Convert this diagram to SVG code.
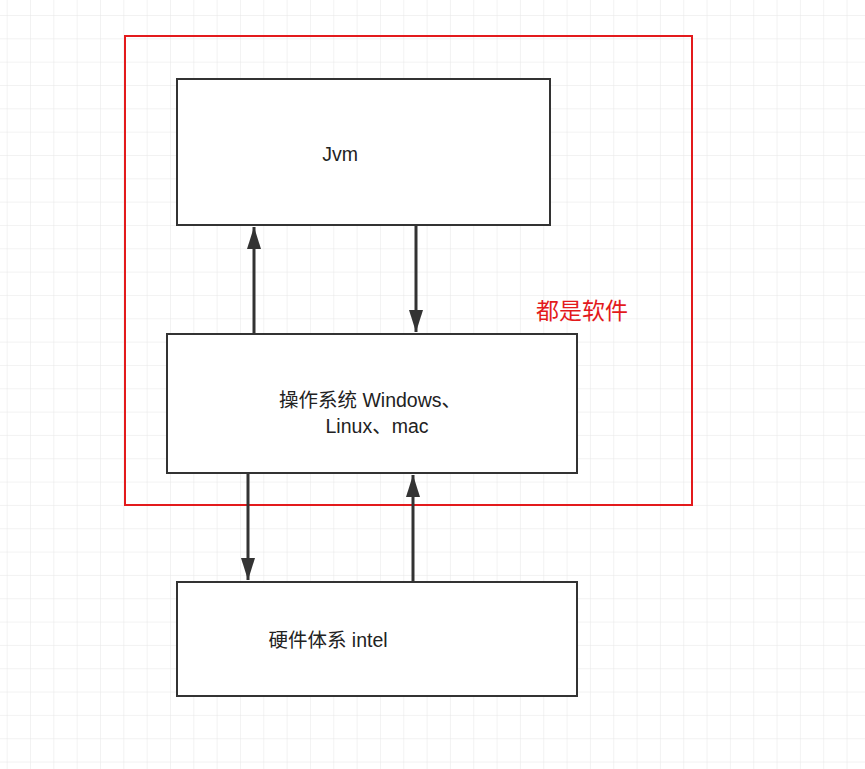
<svg xmlns="http://www.w3.org/2000/svg" width="865" height="769" viewBox="0 0 865 769">
<defs>
<pattern id="grid" x="6.67" y="15" width="23.33" height="23.33" patternUnits="userSpaceOnUse">
<path d="M0 0H23.33M0 0V23.33" fill="none" stroke="#e6e6e6" stroke-width="1"/>
</pattern>
<marker id="a" viewBox="0 0 22 14" refX="22" refY="7" markerWidth="22" markerHeight="14" markerUnits="userSpaceOnUse" orient="auto"><path d="M0 0L22 7L0 14Z" fill="#333"/></marker>
</defs>
<style>
.box{fill:#fff;stroke:#333;stroke-width:2}
.t{font-family:"Liberation Sans","Noto Sans CJK SC",sans-serif;font-size:19.5px;fill:#222;text-anchor:middle}
.c{stroke:#333;stroke-width:3;fill:none}
</style>
<rect width="865" height="769" fill="#fff"/>
<rect width="865" height="769" fill="url(#grid)"/>
<rect x="125" y="36" width="567" height="469" fill="none" stroke="#e31a1c" stroke-width="2"/>
<text x="582" y="319" style="font-family:'Noto Sans CJK SC',sans-serif;font-size:23px;fill:#e31a1c;text-anchor:middle">都是软件</text>
<g id="jvm"><rect class="box" x="177" y="79" width="373" height="146"/><text class="t" x="340" y="161">Jvm</text></g>
<g id="os"><rect class="box" x="167" y="334" width="410" height="139"/><text class="t" x="370" y="407">操作系统 Windows、</text><text class="t" x="377" y="433">Linux、mac</text></g>
<g id="hw"><rect class="box" x="177" y="582" width="400" height="114"/><text class="t" x="328" y="647">硬件体系 intel</text></g>
<g id="connectors">
<line class="c" x1="254" y1="333" x2="254" y2="227" marker-end="url(#a)"/>
<line class="c" x1="416" y1="226" x2="416" y2="332" marker-end="url(#a)"/>
<line class="c" x1="248" y1="474" x2="248" y2="580" marker-end="url(#a)"/>
<line class="c" x1="413" y1="581" x2="413" y2="475" marker-end="url(#a)"/>
</g>
</svg>
